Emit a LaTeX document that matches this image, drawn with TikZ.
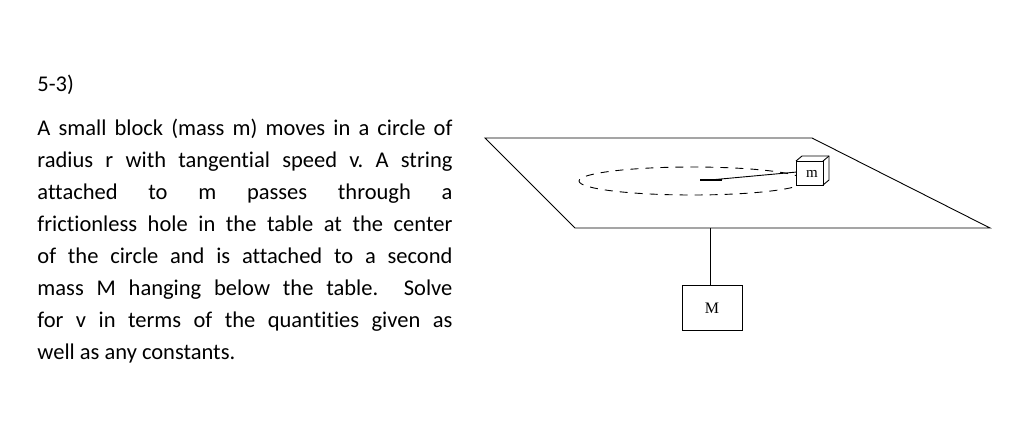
\documentclass[tikz,border=0pt]{standalone}
\usepackage{fontspec}
\setmainfont{Carlito}[Ligatures=CommonOff]
\newfontfamily\serifM{Liberation Serif}
\begin{document}
\begin{tikzpicture}[x=1pt,y=-1pt,line width=0.9pt]
\useasboundingbox (0,0) rectangle (1024,436);
\node[anchor=base west,inner sep=0,font=\fontsize{22.5}{32}\selectfont] (num) at (37,91) {5-3)};
\node[anchor=north west,inner sep=0,text width=415pt,align=justify,font=\fontsize{22.5}{32}\selectfont\frenchspacing] (txt) at (37,119) {A small block (mass m) moves in a circle of\linebreak radius r with tangential speed v. A string\linebreak attached to m passes through a\linebreak frictionless hole in the table at the center\linebreak of the circle and is attached to a second\linebreak mass M hanging below the table.\ \ Solve\linebreak for v in terms of the quantities given as\linebreak well as any constants.};
\draw (485,138) -- (812,138) -- (990,228) -- (575,228) -- cycle;
\draw[dashed,dash pattern=on 8pt off 7pt] (692,181) ellipse (113 and 14);
\coordinate (hole) at (710,180);
\draw[line width=2.5pt] (700,180) -- (722,180);
\draw (hole) -- (797,172);
\draw[fill=white] (796,161) rectangle (823,185);
\draw (796,161) -- (802,156) -- (829,156) -- (829,180) -- (823,185);
\draw (823,161) -- (829,156);
\node[font=\fontsize{15}{15}\selectfont\serifM,inner sep=0] (m) at (812,174) {m};
\node[draw,minimum width=60pt,minimum height=45pt,inner sep=0,font=\fontsize{16}{16}\selectfont\serifM] (M) at (712,308) {M};
\coordinate (top) at (710,228);
\draw (top) -- (M.north -| top);
\end{tikzpicture}
\end{document}
